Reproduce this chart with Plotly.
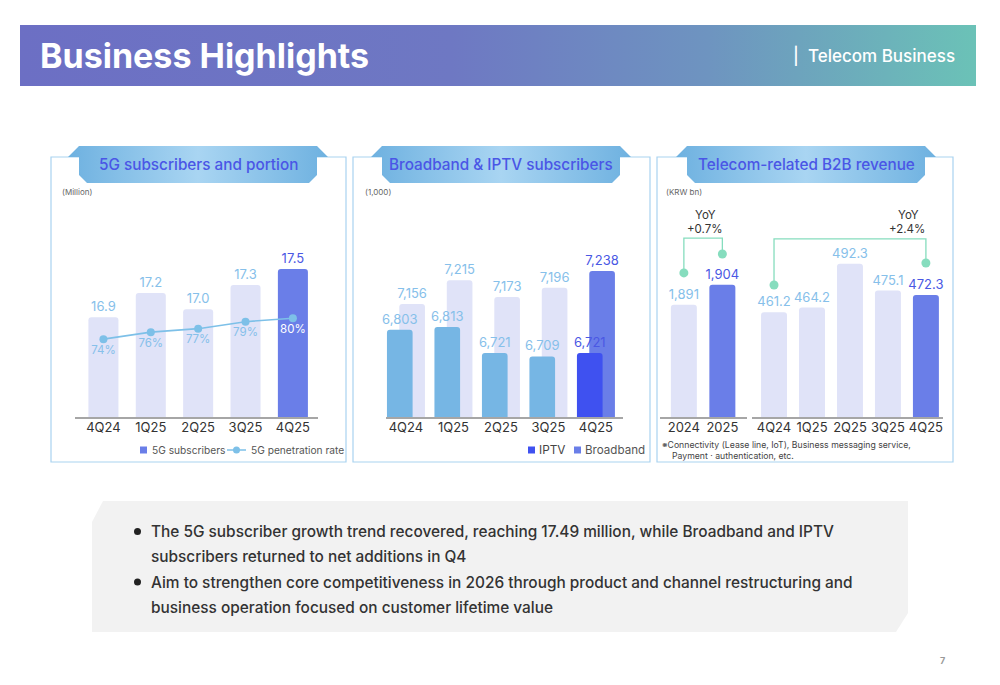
import plotly.graph_objects as go

# ---------------- data ----------------
quarters = ['4Q24', '1Q25', '2Q25', '3Q25', '4Q25']
subs_5g = [16.9, 17.2, 17.0, 17.3, 17.5]          # million
pen_5g = [74, 76, 77, 79, 80]                       # %
iptv = [6803, 6813, 6721, 6709, 6721]               # thousand
broadband = [7156, 7215, 7173, 7196, 7238]          # thousand
years = ['2024', '2025']
b2b_annual = [1891, 1904]                           # KRW bn
b2b_quarter = [461.2, 464.2, 492.3, 475.1, 472.3]   # KRW bn
yoy_annual = '+0.7%'
yoy_quarter = '+2.4%'

W, H = 1000, 685
FONT = 'Inter'
LAV = '#E0E3F8'
MAIN = '#6A7EE8'
STRONG = '#3F51F0'
LBLUE = '#76B6E4'
LBL = '#86C0EA'
DARKLBL = '#4A58E4'
MINT = '#86DDBE'

def X(px):
    return px / W

def Y(py):
    return 1 - py / H

fig = go.Figure()

# ---------- decoration layer (pixel axis, drawn first) ----------
def poly(xs, ys, color=None, grad=None):
    kw = dict(x=xs + [xs[0]], y=ys + [ys[0]], fill='toself', mode='lines',
              line=dict(width=0), hoverinfo='skip', showlegend=False,
              xaxis='x', yaxis='y')
    if grad:
        kw['fillgradient'] = dict(type='horizontal', colorscale=grad)
        kw['fillcolor'] = grad[0][1]
    else:
        kw['fillcolor'] = color
    fig.add_trace(go.Scatter(**kw))

# header band
poly([20, 976, 976, 20], [25, 25, 86, 86],
     grad=[[0, '#6C6FC4'], [0.45, '#6E78C3'], [0.72, '#6E94C0'], [1, '#6BC2B7']])

# bottom text box
poly([103, 908, 908, 896, 92, 92], [501, 501, 613, 632, 632, 522], color='#F2F2F2')

# tabs
tab_grad = [[0, '#6EB1E0'], [0.5, '#A9D5F2'], [1, '#6EB1E0']]
for ax_, bx_ in [(79, 317), (382, 620), (687, 925)]:
    poly([ax_ - 11, ax_, bx_, bx_ + 11, bx_, bx_, bx_ - 8, ax_ + 8, ax_, ax_],
         [157, 146, 146, 157, 157, 175, 183, 183, 175, 157], grad=tab_grad)

# bullets
fig.add_trace(go.Scatter(x=[137.5, 137.5], y=[531.5, 582], mode='markers',
                         marker=dict(size=7, color='#222'), hoverinfo='skip',
                         showlegend=False, xaxis='x', yaxis='y'))

# ---------- chart 1: 5G ----------
fig.add_trace(go.Bar(
    x=quarters, y=subs_5g, xaxis='x2', yaxis='y2', width=0.634,
    marker=dict(color=[LAV] * 4 + [MAIN], cornerradius=3, line=dict(width=0)),
    text=[f'{v:.1f}' for v in subs_5g], textposition='outside',
    constraintext='none', cliponaxis=False,
    textfont=dict(size=13, color=[LBL] * 4 + [DARKLBL], family=FONT),
    showlegend=False, hoverinfo='skip'))
fig.add_trace(go.Scatter(
    x=quarters, y=pen_5g, xaxis='x2', yaxis='y3', mode='lines+markers+text',
    line=dict(color='#7DC0E8', width=1.6), marker=dict(size=8, color='#7DC0E8'),
    text=[f'{v}%' for v in pen_5g], textposition='bottom center',
    textfont=dict(size=11.5, color=[LBL] * 4 + ['#FFFFFF'], family=FONT),
    showlegend=False, hoverinfo='skip', cliponaxis=False))

# ---------- chart 2: Broadband & IPTV ----------
fig.add_trace(go.Bar(
    x=quarters, y=broadband, xaxis='x3', yaxis='y4', width=0.54, offset=-0.14,
    marker=dict(color=[LAV] * 4 + [MAIN], cornerradius=3, line=dict(width=0)),
    text=[f'{v:,}' for v in broadband], textposition='outside',
    constraintext='none', cliponaxis=False,
    textfont=dict(size=13, color=[LBL] * 4 + [DARKLBL], family=FONT),
    showlegend=False, hoverinfo='skip'))
fig.add_trace(go.Bar(
    x=quarters, y=iptv, xaxis='x3', yaxis='y5', width=0.54, offset=-0.40,
    marker=dict(color=[LBLUE] * 4 + [STRONG], cornerradius=3, line=dict(width=0)),
    text=[f'{v:,}' for v in iptv], textposition='outside',
    constraintext='none', cliponaxis=False,
    textfont=dict(size=13, color=[LBL] * 4 + [DARKLBL], family=FONT),
    showlegend=False, hoverinfo='skip'))

# ---------- chart 3: B2B ----------
fig.add_trace(go.Bar(
    x=years, y=b2b_annual, xaxis='x4', yaxis='y6', width=0.675,
    marker=dict(color=[LAV, MAIN], cornerradius=3, line=dict(width=0)),
    text=[f'{v:,}' for v in b2b_annual], textposition='outside',
    constraintext='none', cliponaxis=False,
    textfont=dict(size=13, color=[LBL, DARKLBL], family=FONT),
    showlegend=False, hoverinfo='skip'))
fig.add_trace(go.Bar(
    x=quarters, y=b2b_quarter, xaxis='x5', yaxis='y7', width=0.684,
    marker=dict(color=[LAV] * 4 + [MAIN], cornerradius=3, line=dict(width=0)),
    text=[f'{v:.1f}' for v in b2b_quarter], textposition='outside',
    constraintext='none', cliponaxis=False,
    textfont=dict(size=13, color=[LBL] * 4 + [DARKLBL], family=FONT),
    showlegend=False, hoverinfo='skip'))

# ---------- axes ----------
ydom = [Y(417), Y(240)]
hidden_y = dict(visible=False, showgrid=False, zeroline=False, fixedrange=True)
xcat = dict(type='category', showline=True, linecolor='#A6A6A6', linewidth=1.5,
            ticks='', showgrid=False, zeroline=False, fixedrange=True,
            tickfont=dict(size=13, color='#333333', family=FONT), ticklabelstandoff=-2)

fig.update_layout(
    xaxis=dict(domain=[0, 1], range=[0, W], visible=False, fixedrange=True),
    yaxis=dict(domain=[0, 1], range=[H, 0], visible=False, fixedrange=True),
    xaxis2=dict(domain=[X(75), X(318)], range=[-0.6, 4.53], anchor='y2', **xcat),
    yaxis2=dict(domain=ydom, range=[15.665, 17.858], anchor='x2', **hidden_y),
    yaxis3=dict(range=[51.7, 102.4], overlaying='y2', anchor='x2', **hidden_y),
    xaxis3=dict(domain=[X(386), X(623)], range=[-0.42, 4.57], anchor='y4', **xcat),
    yaxis4=dict(domain=ydom, range=[6875, 7315], anchor='x3', **hidden_y),
    yaxis5=dict(range=[6496, 7119], overlaying='y4', anchor='x3', **hidden_y),
    xaxis4=dict(domain=[X(660), X(747)], range=[-0.62, 1.64], anchor='y6', **xcat),
    yaxis6=dict(domain=ydom, range=[1818, 1933], anchor='x4', **hidden_y),
    xaxis5=dict(domain=[X(752), X(943)], range=[-0.58, 4.45], anchor='y7', **xcat),
    yaxis7=dict(domain=ydom, range=[393.9, 507.6], anchor='x5', **hidden_y),
)

# ---------- shapes ----------
shapes = []
border = '#A9D3F0'
for x0, x1 in [(51, 346), (353, 650), (657, 953)]:
    shapes.append(dict(type='rect', xref='paper', yref='paper', x0=X(x0), x1=X(x1),
                       y0=Y(462), y1=Y(157), line=dict(color=border, width=1.2),
                       fillcolor='rgba(0,0,0,0)', layer='below'))

# legend symbols
def sq(x0, col):
    shapes.append(dict(type='rect', xref='paper', yref='paper', x0=X(x0), x1=X(x0 + 7),
                       y0=Y(453.5), y1=Y(446.5), fillcolor=col, line=dict(width=0)))
sq(140, MAIN)
shapes.append(dict(type='line', xref='paper', yref='paper', x0=X(227), x1=X(246),
                   y0=Y(450), y1=Y(450), line=dict(color='#7DC0E8', width=1.5)))
shapes.append(dict(type='circle', xref='paper', yref='paper', x0=X(233), x1=X(240),
                   y0=Y(453.5), y1=Y(446.5), fillcolor='#7DC0E8', line=dict(width=0)))
sq(528, STRONG)
sq(574, MAIN)

# YoY brackets (tied to category positions)
def bracket(xr, yr, c0, c1, f0, f1, ftop):
    shapes.append(dict(type='path', xref=xr, yref=yr + ' domain',
                       path=f'M {c0},{f0} L {c0},{ftop} L {c1},{ftop} L {c1},{f1}',
                       line=dict(color=MINT, width=1.3)))
bracket('x4', 'y6', 0, 1, 0.814, 0.921, 1.011)
bracket('x5', 'y7', 0, 4, 0.746, 0.870, 1.006)
fig.update_layout(shapes=shapes)

dot_specs = [('x4', 'y6', 0, 0.814), ('x4', 'y6', 1, 0.921),
             ('x5', 'y7', 0, 0.746), ('x5', 'y7', 4, 0.870)]
for xr, yr, c, f in dot_specs:
    fig.add_shape(type='circle', xref=xr, yref=yr + ' domain', xsizemode='pixel',
                  ysizemode='pixel', xanchor=c, yanchor=f, x0=-4.5, x1=4.5, y0=-4.5, y1=4.5,
                  fillcolor=MINT, line=dict(width=0))

# ---------- annotations ----------
ann = []
def txt(x, y, s, size, color, xanchor='center', weight=400, yanchor='middle'):
    ann.append(dict(x=X(x), y=Y(y), xref='paper', yref='paper', text=s, showarrow=False,
                    xanchor=xanchor, yanchor=yanchor,
                    font=dict(size=size, color=color, family=FONT, weight=weight)))

txt(38, 55, 'Business Highlights', 34, 'white', 'left', 700)
txt(957, 55, '|  Telecom Business', 17, 'white', 'right', 500)

TITLE = '#4A56E6'
txt(198, 164.5, '5G subscribers and portion', 15.3, TITLE, weight=500)
txt(501, 164.5, 'Broadband &amp; IPTV subscribers', 15.3, TITLE, weight=500)
txt(806, 164.5, 'Telecom-related B2B revenue', 15.3, TITLE, weight=500)

txt(60, 191.5, '(Million)', 8, '#666', 'left')
txt(363, 191.5, '(1,000)', 8, '#666', 'left')
txt(664, 191.5, '(KRW bn)', 8, '#666', 'left')

txt(150, 450, '5G subscribers', 10.2, '#555', 'left')
txt(249, 450, '5G penetration rate', 10.2, '#555', 'left')
txt(537, 450, 'IPTV', 11.8, '#444', 'left')
txt(583, 450, 'Broadband', 11.6, '#555', 'left')

txt(705, 215, 'YoY', 11.5, '#333')
txt(705, 229, yoy_annual, 11.5, '#333')
txt(908, 215, 'YoY', 11.5, '#333')
txt(907, 229, yoy_quarter, 11.5, '#333')

txt(660, 445, '※Connectivity (Lease line, IoT), Business messaging service,', 8.7, '#444', 'left')
txt(670, 455.5, 'Payment · authentication, etc.', 8.7, '#444', 'left')

BODY = '#333333'
txt(149, 531, 'The 5G subscriber growth trend recovered, reaching 17.49 million, while Broadband and IPTV', 15.4, BODY, 'left', 500)
txt(149, 556, 'subscribers returned to net additions in Q4', 15.4, BODY, 'left', 500)
txt(149, 582, 'Aim to strengthen core competitiveness in 2026 through product and channel restructuring and', 15.4, BODY, 'left', 500)
txt(149, 607, 'business operation focused on customer lifetime value', 15.4, BODY, 'left', 500)

txt(942, 660, '7', 9, '#999', weight=700)

fig.update_layout(
    annotations=ann,
    width=W, height=H, margin=dict(l=0, r=0, t=0, b=0, pad=0),
    paper_bgcolor='white', plot_bgcolor='rgba(0,0,0,0)',
    barmode='overlay', showlegend=False, template=None,
    font=dict(family=FONT, color='#333'),
)

fig.write_html('out.html', config={'displayModeBar': False})
